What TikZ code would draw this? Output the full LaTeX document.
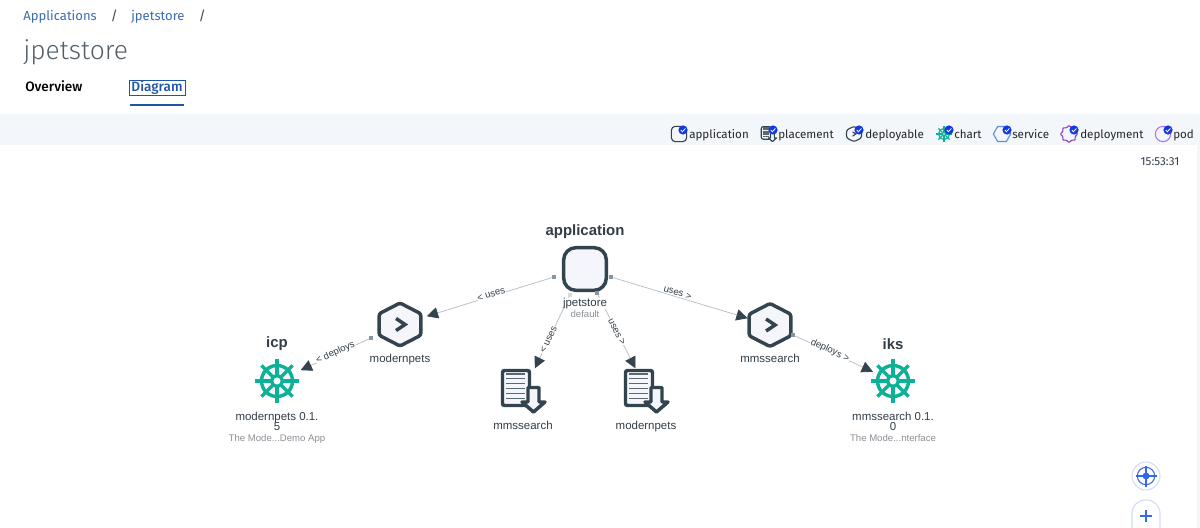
\documentclass[tikz,border=0pt]{standalone}
\usepackage{fontspec}
\setmainfont{Liberation Sans}
\newfontfamily\uifont{Fira Sans}
\newfontfamily\uilight{Fira Sans Light}
\newfontfamily\uimedium{Fira Sans Medium}
\usetikzlibrary{arrows.meta,shapes.geometric}
\definecolor{panelbg}{HTML}{F3F6FB}
\definecolor{iconink}{HTML}{33444F}
\definecolor{iconfill}{HTML}{F4F6FB}
\definecolor{helmteal}{HTML}{0FB196}
\definecolor{linkgray}{HTML}{B9C2CA}
\definecolor{portgray}{HTML}{8496A5}
\definecolor{labelink}{HTML}{323D47}
\definecolor{subink}{HTML}{8A8F94}
\definecolor{crumbblue}{HTML}{3D6BB0}
\definecolor{tabblue}{HTML}{1F55A5}
\definecolor{badgeblue}{HTML}{1438E0}
\definecolor{serviceblue}{HTML}{5F8FDD}
\definecolor{gearpurple}{HTML}{8A3FC8}
\definecolor{podpurple}{HTML}{A97CF5}
\definecolor{zoomring}{HTML}{D3DBF6}
\definecolor{zoomblue}{HTML}{3568E8}
\tikzset{
  iconline/.style={line width=2.6pt},
  appround/.style={rounded corners=9pt},
  spot/.style={circle, inner sep=0pt, outer sep=0pt},
  port/.style={rectangle, fill=portgray, inner sep=0pt, outer sep=0pt, minimum size=3.4pt},
  link/.style={draw=linkgray, line width=.6pt, -{Triangle[length=8.5pt,width=8.5pt,color=iconink]}},
  linklabel/.style={font=\fontsize{7.2}{8}\selectfont, text=labelink, sloped, fill=white, inner sep=.4pt},
  kindlabel/.style={font=\bfseries\fontsize{11.2}{12}\selectfont, text=labelink, inner sep=0pt, text height=8pt, text depth=2.4pt},
  namelabel/.style={font=\fontsize{8.6}{10}\selectfont, text=labelink, inner sep=0pt, text height=6.2pt, text depth=1.8pt},
  sublabel/.style={font=\fontsize{7.2}{8}\selectfont, text=subink, inner sep=0pt, text height=5.2pt, text depth=1.5pt},
  crumb/.style={font=\uifont\fontsize{9.8}{12}\selectfont, anchor=west, inner sep=0pt, text height=7.5pt, text depth=2.2pt},
  legendtext/.style={font=\uifont\fontsize{8.7}{11}\selectfont, text=black!85, anchor=west, inner sep=0pt, text height=7pt, text depth=2pt},
  legendicon/.style={scale=.36, iconline/.style={line width=.85pt}, appround/.style={rounded corners=3pt}},
  hexicon/.pic={
    \draw[iconline, draw=iconink, fill=iconfill, rounded corners=1.6pt] (0,-21.5) -- (20.8,-10.8) -- (20.8,10.8)
      -- (0,21.5) -- (-20.8,10.8) -- (-20.8,-10.8) -- cycle;
    \draw[iconline, draw=iconink] (-4,-6) -- (5,0) -- (-4,6);
  },
  appicon/.pic={
    \draw[iconline, appround, draw=iconink, fill=iconfill] (-21.3,-21.3) rectangle (21.3,21.3);
  },
  helmicon/.pic={
    \fill[iconfill] (0,0) circle (15);
    \foreach \ang in {0,45,...,315}
      \draw[iconline, draw=helmteal] (\ang:5.5) -- (\ang:22);
    \draw[iconline, draw=helmteal] (0,0) circle (15.5);
    \draw[iconline, draw=helmteal, fill=white] (0,0) circle (5.5);
  },
  docicon/.pic={
    \draw[iconline, draw=iconink, fill=iconfill, rounded corners=1.5pt] (-21.5,-20.5) rectangle (5.5,14.5);
    \foreach \yy in {-17,-12.7,-7.7,-2.7,2.3,7.3}
      \draw[draw=iconink!80, line width=1pt] (-18,\yy) -- (1,\yy);
    \draw[iconline, draw=iconink, fill=iconfill, line join=round] (4,-3.5) -- (15,-3.5) -- (15,11) -- (21,11)
      -- (9.5,21) -- (-2,11) -- (4,11) -- cycle;
  },
  badge/.pic={
    \fill[badgeblue] (0,0) circle (4.6);
    \draw[white, line width=.6pt] (-2.2,0) -- (-.6,1.8) -- (2.4,-1.6);
  }
}
\begin{document}
\begin{tikzpicture}[x=.75pt, y=-.75pt]
\useasboundingbox (0,0) rectangle (1200,528);
% page header
\fill[panelbg] (0,114) rectangle (1200,145);
\fill[panelbg] (1197,145) rectangle (1200,528);
\node[crumb, text=crumbblue] (crumbapps) at (23,16.5) {Applications};
\node[crumb, text=labelink] (crumbsep1) at (110.5,16.5) {/};
\node[crumb, text=crumbblue] (crumbstore) at (131,16.5) {jpetstore};
\node[crumb, text=labelink] (crumbsep2) at (198.5,16.5) {/};
\node[font=\uilight\fontsize{19.8}{24}\selectfont, text=iconink!85, anchor=west, inner sep=0pt, text height=14pt, text depth=4.5pt] (title) at (23,53) {jpetstore};
\node[font=\uimedium\fontsize{10.2}{12}\selectfont, text=black, anchor=base west, inner sep=0pt] (taboverview) at (25,92) {Overview};
\node[font=\uimedium\fontsize{10.2}{12}\selectfont, text=tabblue, draw=tabblue, line width=.6pt, minimum width=42pt, text height=8pt, text depth=3pt, inner sep=0pt] (tabdiagram) at (157,87.7) {Diagram};
\draw[tabblue, line width=1.4pt] (130,105) -- (184,105);
\node[font=\uifont\fontsize{8.7}{9}\selectfont, text=labelink, inner sep=0pt] (clock) at (1160,162) {15:53:31};
% legend
\pic[legendicon] at (679,134) {appicon};
\pic[legendicon] at (769,134) {docicon};
\pic[legendicon] at (854,134) {hexicon};
\pic[legendicon] at (944,134) {helmicon};
\node[regular polygon, regular polygon sides=6, draw=serviceblue, line width=.85pt, minimum size=13pt, inner sep=0pt] (legservice) at (1002,134) {};
\node[star, star points=8, star point ratio=1.3, rounded corners=.6pt, draw=gearpurple, line width=.85pt, minimum size=13pt, inner sep=0pt] (legdeploy) at (1069,134) {};
\node[circle, draw=podpurple, line width=.85pt, minimum size=11.5pt, inner sep=0pt] (legpod) at (1163,134) {};
\pic at (683,130) {badge};
\pic at (773,130) {badge};
\pic at (859,130) {badge};
\pic at (949,130) {badge};
\pic at (1007,130) {badge};
\pic at (1074,130) {badge};
\pic at (1168,130) {badge};
\node[legendtext] (legapp) at (689,135.5) {application};
\node[legendtext] (legplace) at (778,135.5) {placement};
\node[legendtext] (legdeployable) at (865,135.5) {deployable};
\node[legendtext] (legchart) at (954,135.5) {chart};
\node[legendtext] (legservicetext) at (1012,135.5) {service};
\node[legendtext] (legdeploytext) at (1080,135.5) {deployment};
\node[legendtext] (legpodtext) at (1173,135.5) {pod};
% graph nodes
\node[spot, minimum size=42pt] (modernpets) at (400,324.5) {};
\node[spot, minimum size=35pt] (mmssearch) at (770,325) {};
\node[spot] (jpetstore) at (585,269) {};
\node[spot, minimum size=39pt] (icp) at (277,381) {};
\node[spot, minimum size=33pt] (iks) at (893,381) {};
\node[rectangle, inner sep=0pt, outer sep=0pt, minimum width=34.5pt, minimum height=34pt] (docmms) at (524,391) {};
\node[rectangle, inner sep=0pt, outer sep=0pt, minimum width=34.5pt, minimum height=34pt] (docpets) at (647,391) {};
\pic at (modernpets) {hexicon};
\pic at (mmssearch) {hexicon};
\pic at (jpetstore) {appicon};
\pic at (icp) {helmicon};
\pic at (iks) {helmicon};
% ports
\node[port] (portleft) at (554,277) {};
\node[port] (portright) at (611,277) {};
\node[port] (portdown) at (597,293) {};
\node[port, fill=linkgray!60] (portfaint) at (570,295) {};
\node[port] (portpets) at (371,338) {};
\node[port] (portmms) at (793,335) {};
% links
\draw[link] (portleft) -- node[linklabel, pos=.48, yshift=1.5pt] {< uses} (modernpets);
\draw[link] (portright) -- node[linklabel, pos=.47, yshift=3pt] {uses >} (mmssearch);
\draw[link] (portfaint) -- node[linklabel, pos=.6] {< uses} (docmms);
\draw[link] (portdown) -- node[linklabel, pos=.5] {uses >} (docpets);
\draw[link] (portpets) -- node[linklabel, pos=.48, yshift=1pt] {< deploys} (icp);
\draw[link] (portmms) -- node[linklabel, pos=.44, yshift=1pt] {deploys >} (iks);
\pic at (docmms) {docicon};
\pic at (docpets) {docicon};
% labels
\node[kindlabel] (kindapp) at (585,232) {application};
\node[kindlabel] (kindicp) at (277,343.5) {icp};
\node[kindlabel] (kindiks) at (893,345.5) {iks};
\node[namelabel, fill=white] (namestore) at (585,303.8) {jpetstore};
\node[sublabel] (subdefault) at (585,315.2) {default};
\node[namelabel] (namepets) at (400,359.7) {modernpets};
\node[namelabel] (namemms) at (770,359.7) {mmssearch};
\node[namelabel] (namedocmms) at (523,426.4) {mmssearch};
\node[namelabel] (namedocpets) at (646,426.4) {modernpets};
\node[namelabel] (chartpets) at (277,417.5) {modernpets 0.1.};
\node[namelabel] (chartpetsb) at (277,428) {5};
\node[sublabel] (subpets) at (277,439.2) {The Mode...Demo App};
\node[namelabel] (chartmms) at (893,417.5) {mmssearch 0.1.};
\node[namelabel] (chartmmsb) at (893,428) {0};
\node[sublabel] (submms) at (893,439.2) {The Mode...nterface};
% zoom controls
\node[circle, draw=zoomring, fill=white, line width=.8pt, minimum size=21pt, inner sep=0pt] (btntarget) at (1146,476) {};
\draw[zoomblue, line width=.8pt] (btntarget) circle (6.5pt);
\fill[zoomblue] (btntarget) circle (2.6pt);
\draw[zoomblue, line width=.8pt] (1135.5,476) -- (1156.5,476) (1146,465.5) -- (1146,486.5);
\draw[zoomring, fill=white, line width=.8pt, rounded corners=10pt] (1132,545) rectangle (1160,500);
\node[inner sep=0pt] (btnplus) at (1146,516) {};
\draw[zoomblue, line width=.9pt] (1140,516) -- (1152,516) (1146,510) -- (1146,522);
\end{tikzpicture}
\end{document}
